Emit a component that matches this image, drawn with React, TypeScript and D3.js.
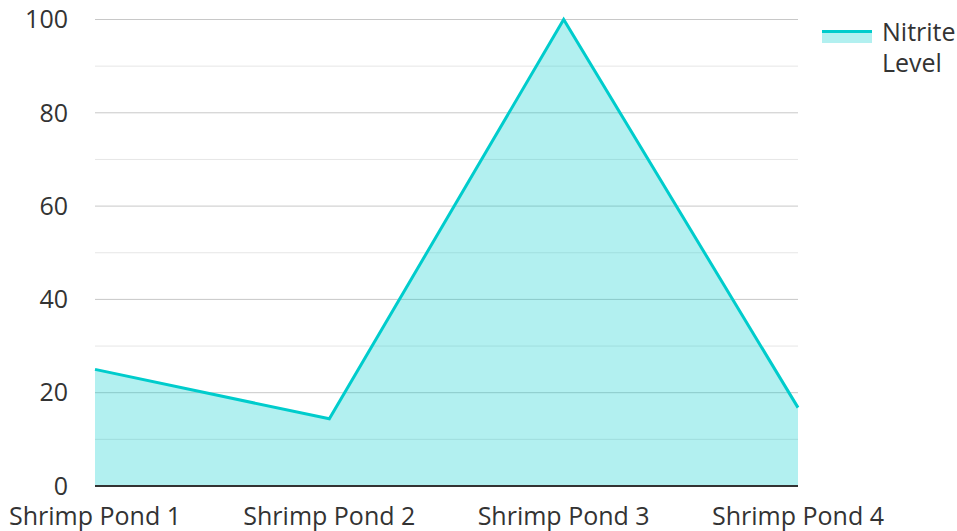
import { useRef, useEffect } from 'react';
import * as d3 from 'd3';

const categories = ['Shrimp Pond 1', 'Shrimp Pond 2', 'Shrimp Pond 3', 'Shrimp Pond 4'];
const nitriteLevel = [25, 14.4, 100, 16.8];
const majorTicks = [0, 20, 40, 60, 80, 100];
const minorTicks = [10, 30, 50, 70, 90];
const seriesName = ['Nitrite', 'Level'];

const WIDTH = 957;
const HEIGHT = 531;
const FONT = '"Open Sans", "Noto Sans", sans-serif';

export default function App() {
  const svgRef = useRef<SVGSVGElement>(null);

  useEffect(() => {
    document.body.style.margin = '0';
    if (!svgRef.current) return;
    const svg = d3.select(svgRef.current);
    svg.selectAll('*').remove();

    const margin = { top: 19.5, right: 159, bottom: 45, left: 95 };
    const innerW = WIDTH - margin.left - margin.right;
    const innerH = HEIGHT - margin.top - margin.bottom;

    const g = svg.append('g').attr('transform', `translate(${margin.left},${margin.top})`);

    const x = d3.scalePoint<string>().domain(categories).range([0, innerW]);
    const y = d3.scaleLinear().domain([0, 100]).range([innerH, 0]);

    // grid
    g.selectAll('.minor')
      .data(minorTicks)
      .enter()
      .append('line')
      .attr('x1', 0)
      .attr('x2', innerW)
      .attr('y1', (d) => y(d))
      .attr('y2', (d) => y(d))
      .attr('stroke', '#e6e6e6')
      .attr('stroke-width', 1);

    g.selectAll('.major')
      .data(majorTicks.filter((d) => d > 0))
      .enter()
      .append('line')
      .attr('x1', 0)
      .attr('x2', innerW)
      .attr('y1', (d) => y(d))
      .attr('y2', (d) => y(d))
      .attr('stroke', '#c8c8c8')
      .attr('stroke-width', 1);

    const area = d3
      .area<number>()
      .x((_, i) => x(categories[i]) || 0)
      .y0(innerH)
      .y1((d) => y(d));

    const line = d3
      .line<number>()
      .x((_, i) => x(categories[i]) || 0)
      .y((d) => y(d));

    g.append('path')
      .datum(nitriteLevel)
      .attr('d', area)
      .attr('fill', '#00cccc')
      .attr('fill-opacity', 0.3);

    g.append('path')
      .datum(nitriteLevel)
      .attr('d', line)
      .attr('fill', 'none')
      .attr('stroke', '#00cccc')
      .attr('stroke-width', 3)
      .attr('stroke-linejoin', 'miter');

    // x axis line
    g.append('line')
      .attr('x1', 0)
      .attr('x2', innerW)
      .attr('y1', innerH)
      .attr('y2', innerH)
      .attr('stroke', '#333')
      .attr('stroke-width', 2);

    // y labels
    g.selectAll('.ylab')
      .data(majorTicks)
      .enter()
      .append('text')
      .attr('x', -27)
      .attr('y', (d) => y(d))
      .attr('dy', '0.35em')
      .attr('text-anchor', 'end')
      .attr('fill', '#333')
      .style('font-family', FONT)
      .style('font-size', '25px')
      .text((d) => d);

    // x labels
    g.selectAll('.xlab')
      .data(categories)
      .enter()
      .append('text')
      .attr('x', (d) => x(d) || 0)
      .attr('y', innerH + 39)
      .attr('text-anchor', 'middle')
      .attr('fill', '#333')
      .style('font-family', FONT)
      .style('font-size', '25px')
      .text((d) => d);

    // legend
    const lg = svg.append('g').attr('transform', 'translate(822,30)');
    lg.append('rect')
      .attr('x', 0)
      .attr('y', 0)
      .attr('width', 50)
      .attr('height', 13)
      .attr('fill', '#00cccc')
      .attr('fill-opacity', 0.3);
    lg.append('line')
      .attr('x1', 0)
      .attr('x2', 50)
      .attr('y1', 1.5)
      .attr('y2', 1.5)
      .attr('stroke', '#00cccc')
      .attr('stroke-width', 3);
    lg.selectAll('.ltext')
      .data(seriesName)
      .enter()
      .append('text')
      .attr('x', 60)
      .attr('y', (_, i) => 11 + i * 31)
      .attr('fill', '#333')
      .style('font-family', FONT)
      .style('font-size', '25px')
      .text((d) => d);
  }, []);

  return <svg ref={svgRef} width={WIDTH} height={HEIGHT} style={{ display: 'block' }} />;
}
